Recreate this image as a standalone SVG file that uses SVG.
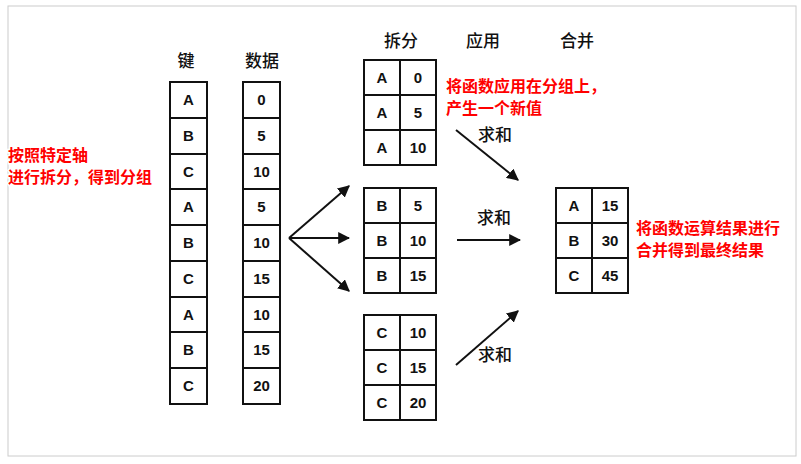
<svg xmlns="http://www.w3.org/2000/svg" width="801" height="464" viewBox="0 0 801 464">
<defs>
<style>
.c{fill:#fff;stroke:#111;stroke-width:2}
.t{font-family:"Liberation Sans","Noto Sans CJK SC",sans-serif;font-weight:bold;font-size:15px;text-anchor:middle;fill:#111}
.h{font-family:"Noto Sans CJK SC",sans-serif;font-size:17px;font-weight:500;text-anchor:middle;fill:#111}
.r{font-family:"Noto Sans CJK SC",sans-serif;font-weight:bold;font-size:16px;fill:#f00;stroke:#fff;stroke-width:3;paint-order:stroke}
.a{stroke:#111;stroke-width:2;fill:none;marker-end:url(#m)}
</style>
<marker id="m" viewBox="0 0 10 10" refX="9" refY="5" markerWidth="6" markerHeight="6" orient="auto"><path d="M0,0L10,5L0,10z" fill="#111"/></marker>
</defs>
<rect x="0" y="0" width="801" height="464" fill="#fff"/>
<rect x="8" y="6" width="788" height="450" fill="none" stroke="#ccc" stroke-width="1"/>
<text class="h" x="186" y="67">键</text>
<text class="h" x="262" y="67">数据</text>
<text class="h" x="401" y="47">拆分</text>
<text class="h" x="483" y="47">应用</text>
<text class="h" x="577" y="47">合并</text>
<g id="key">
<rect class="c" x="170" y="82" width="37" height="322"/>
<path d="M170,118H207M170,154H207M170,189H207M170,225H207M170,261H207M170,297H207M170,332H207M170,368H207" stroke="#111" stroke-width="2"/>
<text class="t" x="188.5" y="105">A</text><text class="t" x="188.5" y="141">B</text><text class="t" x="188.5" y="177">C</text>
<text class="t" x="188.5" y="212">A</text><text class="t" x="188.5" y="248">B</text><text class="t" x="188.5" y="284">C</text>
<text class="t" x="188.5" y="320">A</text><text class="t" x="188.5" y="355">B</text><text class="t" x="188.5" y="391">C</text>
</g>
<g id="data">
<rect class="c" x="243" y="82" width="37" height="322"/>
<path d="M243,118H280M243,154H280M243,189H280M243,225H280M243,261H280M243,297H280M243,332H280M243,368H280" stroke="#111" stroke-width="2"/>
<text class="t" x="261.5" y="105">0</text><text class="t" x="261.5" y="141">5</text><text class="t" x="261.5" y="177">10</text>
<text class="t" x="261.5" y="212">5</text><text class="t" x="261.5" y="248">10</text><text class="t" x="261.5" y="284">15</text>
<text class="t" x="261.5" y="320">10</text><text class="t" x="261.5" y="355">15</text><text class="t" x="261.5" y="391">20</text>
</g>
<g id="gA">
<rect class="c" x="364" y="60" width="72" height="105"/>
<path d="M364,95H436M364,130H436M400,60V165" stroke="#111" stroke-width="2"/>
<text class="t" x="382" y="83">A</text><text class="t" x="418" y="83">0</text>
<text class="t" x="382" y="118">A</text><text class="t" x="418" y="118">5</text>
<text class="t" x="382" y="153">A</text><text class="t" x="418" y="153">10</text>
</g>
<g id="gB">
<rect class="c" x="364" y="188" width="72" height="105"/>
<path d="M364,223H436M364,258H436M400,188V293" stroke="#111" stroke-width="2"/>
<text class="t" x="382" y="211">B</text><text class="t" x="418" y="211">5</text>
<text class="t" x="382" y="246">B</text><text class="t" x="418" y="246">10</text>
<text class="t" x="382" y="281">B</text><text class="t" x="418" y="281">15</text>
</g>
<g id="gC">
<rect class="c" x="364" y="315" width="72" height="105"/>
<path d="M364,350H436M364,385H436M400,315V420" stroke="#111" stroke-width="2"/>
<text class="t" x="382" y="338">C</text><text class="t" x="418" y="338">10</text>
<text class="t" x="382" y="373">C</text><text class="t" x="418" y="373">15</text>
<text class="t" x="382" y="408">C</text><text class="t" x="418" y="408">20</text>
</g>
<g id="result">
<rect class="c" x="556" y="188" width="72" height="105"/>
<path d="M556,223H628M556,258H628M592,188V293" stroke="#111" stroke-width="2"/>
<text class="t" x="574" y="211">A</text><text class="t" x="610" y="211">15</text>
<text class="t" x="574" y="246">B</text><text class="t" x="610" y="246">30</text>
<text class="t" x="574" y="281">C</text><text class="t" x="610" y="281">45</text>
</g>
<g id="connectors">
<path class="a" d="M289,238L349,186"/>
<path class="a" d="M289,238L349,238"/>
<path class="a" d="M289,238L349,291"/>
<path class="a" d="M456,130L518,180"/>
<path class="a" d="M457,240L520,240"/>
<path class="a" d="M456,365L518,311"/>
</g>
<text class="h" x="495" y="141">求和</text>
<text class="h" x="494" y="224">求和</text>
<text class="h" x="495" y="361">求和</text>
<text class="r" x="8" y="161">按照特定轴</text>
<text class="r" x="8" y="183">进行拆分，得到分组</text>
<text class="r" x="446" y="92">将函数应用在分组上，</text>
<text class="r" x="446" y="114">产生一个新值</text>
<text class="r" x="636" y="234">将函数运算结果进行</text>
<text class="r" x="636" y="256">合并得到最终结果</text>
</svg>
